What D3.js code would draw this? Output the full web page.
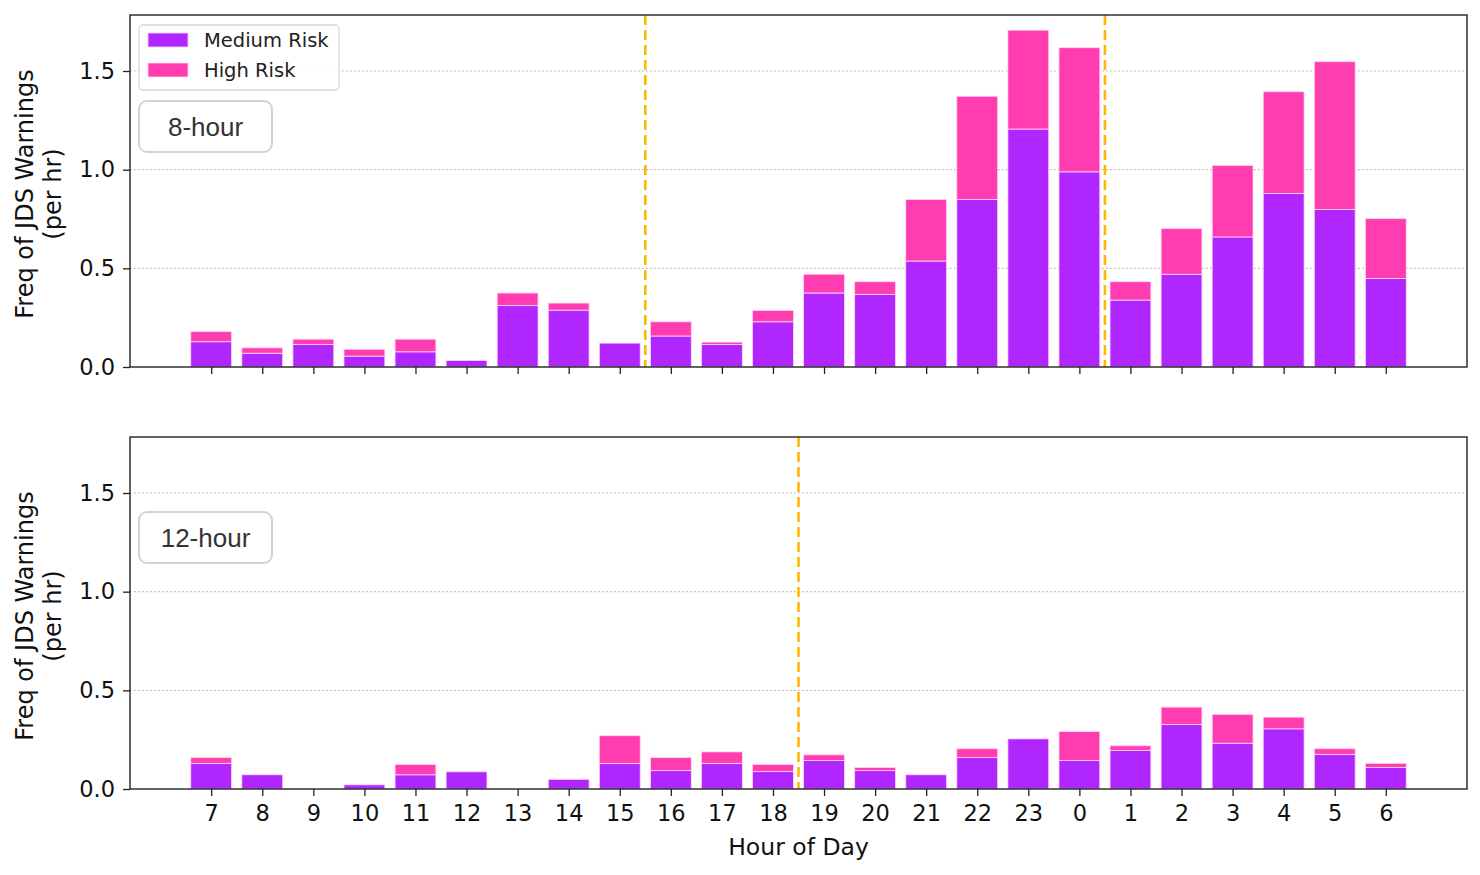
<!DOCTYPE html>
<html>
<head>
<meta charset="utf-8">
<script src="https://cdn.jsdelivr.net/npm/d3@7"></script>
<style>
  html, body { margin: 0; padding: 0; background: #fff; }
  svg { display: block; }
</style>
</head>
<body>
<svg id="chart" width="1480" height="875"></svg>
<script>
// ---- data ----
const hours = ["7","8","9","10","11","12","13","14","15","16","17","18","19","20","21","22","23","0","1","2","3","4","5","6"];
const yTicks = [0, 0.5, 1.0, 1.5];
const seriesNames = ["Medium Risk", "High Risk"];
const seriesColors = ["#b026ff", "#ff3db0"];

// 8-hour panel
const medium8 = [0.128,0.070,0.114,0.055,0.077,0.033,0.311,0.288,0.121,0.157,0.114,0.229,0.375,0.368,0.537,0.849,1.206,0.989,0.339,0.470,0.659,0.879,0.798,0.449];
const high8   = [0.051,0.027,0.027,0.035,0.064,0.000,0.064,0.036,0.000,0.072,0.012,0.058,0.095,0.064,0.312,0.523,0.501,0.629,0.093,0.231,0.362,0.516,0.749,0.303];
// 12-hour panel
const medium12 = [0.130,0.072,0.000,0.021,0.072,0.087,0.000,0.049,0.130,0.093,0.130,0.088,0.144,0.093,0.072,0.159,0.254,0.144,0.196,0.327,0.232,0.305,0.175,0.109];
const high12   = [0.029,0.000,0.000,0.000,0.052,0.000,0.000,0.000,0.140,0.066,0.058,0.036,0.029,0.016,0.000,0.045,0.000,0.147,0.023,0.088,0.146,0.059,0.029,0.021];

const panelLabels = ["8-hour", "12-hour"];
const shiftLines8 = [8.5, 17.5];   // positions between bars (bar index units)
const shiftLines12 = [11.5];

// ---- layout ----
const svg = d3.select("#chart");
const L = 130, R = 1467;
const panels = [
  { top: 15, bottom: 367, med: medium8, high: high8, label: panelLabels[0], lines: shiftLines8, legend: true, xLabels: false },
  { top: 437, bottom: 789, med: medium12, high: high12, label: panelLabels[1], lines: shiftLines12, legend: false, xLabels: true }
];

const n = hours.length;
const barW = 0.8;
const span = (n - 1) + barW;
const pad = 0.05 * span;
const x = d3.scaleLinear().domain([-barW/2 - pad, (n - 1) + barW/2 + pad]).range([L, R]);

const allTotals = medium8.map((d,i)=>d+high8[i]).concat(medium12.map((d,i)=>d+high12[i]));
const yMax = d3.max(allTotals) * 1.045;

const tickFont = "DejaVu Sans, sans-serif";

panels.forEach((p) => {
  const y = d3.scaleLinear().domain([0, yMax]).range([p.bottom, p.top]);
  const g = svg.append("g");

  // grid
  g.selectAll("line.grid").data(yTicks.filter(t => t > 0)).enter().append("line")
    .attr("x1", L).attr("x2", R)
    .attr("y1", d => y(d)).attr("y2", d => y(d))
    .attr("stroke", "#b0b0b0").attr("stroke-width", 1.1).attr("stroke-dasharray", "1.5,2.5");

  // bars
  const stack = [
    { vals: p.med, base: p.med.map(() => 0), color: seriesColors[0] },
    { vals: p.high, base: p.med, color: seriesColors[1] }
  ];
  stack.forEach(s => {
    g.selectAll(null).data(s.vals.map((v, i) => ({ v, b: s.base[i], i }))).enter()
      .filter(d => d.v > 0)
      .append("rect")
      .attr("x", d => x(d.i - barW/2))
      .attr("width", d => x(barW) - x(0))
      .attr("y", d => y(d.b + d.v))
      .attr("height", d => y(d.b) - y(d.b + d.v))
      .attr("fill", s.color)
      .attr("stroke", "#ffd6f2").attr("stroke-width", 0.8);
  });

  // dashed shift lines
  g.selectAll(null).data(p.lines).enter().append("line")
    .attr("x1", d => x(d)).attr("x2", d => x(d))
    .attr("y1", p.top).attr("y2", p.bottom)
    .attr("stroke", "#ffb800").attr("stroke-width", 2.6).attr("stroke-dasharray", "10,5");

  // axes
  const yAxis = d3.axisLeft(y).tickValues(yTicks).tickFormat(d3.format(".1f")).tickSizeOuter(0).tickSize(7).tickPadding(8);
  const ya = g.append("g").attr("transform", `translate(${L},0)`).call(yAxis);
  ya.select(".domain").remove();
  ya.selectAll("text").attr("font-family", tickFont).attr("font-size", 22.5).attr("fill", "#111");
  ya.selectAll("line").attr("stroke", "#222").attr("stroke-width", 1.3);

  const xAxis = d3.axisBottom(x).tickValues(d3.range(n)).tickFormat(i => p.xLabels ? hours[i] : "").tickSizeOuter(0).tickSize(7).tickPadding(9);
  const xa = g.append("g").attr("transform", `translate(0,${p.bottom})`).call(xAxis);
  xa.select(".domain").remove();
  xa.selectAll("text").attr("font-family", tickFont).attr("font-size", 22.5).attr("fill", "#111");
  xa.selectAll("line").attr("stroke", "#222").attr("stroke-width", 1.3);

  // frame
  g.append("rect").attr("x", L).attr("y", p.top).attr("width", R - L).attr("height", p.bottom - p.top)
    .attr("fill", "none").attr("stroke", "#222").attr("stroke-width", 1.4);

  // y label
  const cy = (p.top + p.bottom) / 2 + 3;
  const yl = g.append("text").attr("transform", `translate(33,${cy}) rotate(-90)`)
    .attr("text-anchor", "middle").attr("font-family", tickFont).attr("font-size", 24).attr("fill", "#111");
  yl.append("tspan").attr("x", 0).attr("dy", 0).text("Freq of JDS Warnings");
  yl.append("tspan").attr("x", 0).attr("dy", 28).text("(per hr)");

  // panel label box
  const by = p.legend ? 101 : 512;
  g.append("rect").attr("x", 139).attr("y", by).attr("width", 133).attr("height", 51)
    .attr("rx", 8).attr("fill", "#fff").attr("stroke", "#d3d3d3").attr("stroke-width", 2);
  g.append("text").attr("x", 205.5).attr("y", by + 35).attr("text-anchor", "middle")
    .attr("font-family", "Liberation Sans, Arial, sans-serif").attr("font-size", 26).attr("fill", "#333")
    .text(p.label);

  // legend
  if (p.legend) {
    const lg = g.append("g");
    lg.append("rect").attr("x", 139).attr("y", 25).attr("width", 200).attr("height", 65)
      .attr("rx", 4).attr("fill", "#fff").attr("fill-opacity", 0.85).attr("stroke", "#d6d6d6").attr("stroke-width", 1.3);
    seriesNames.forEach((name, i) => {
      const yy = 33 + i * 30;
      lg.append("rect").attr("x", 148).attr("y", yy).attr("width", 40).attr("height", 14)
        .attr("fill", seriesColors[i]).attr("stroke", "#ffd6f2").attr("stroke-width", 0.8);
      lg.append("text").attr("x", 204).attr("y", yy + 14).attr("font-family", tickFont)
        .attr("font-size", 19.5).attr("fill", "#222").text(name);
    });
  }
});

// x label
svg.append("text").attr("x", (L + R) / 2).attr("y", 855).attr("text-anchor", "middle")
  .attr("font-family", tickFont).attr("font-size", 23.5).attr("fill", "#111").text("Hour of Day");
</script>
</body>
</html>
